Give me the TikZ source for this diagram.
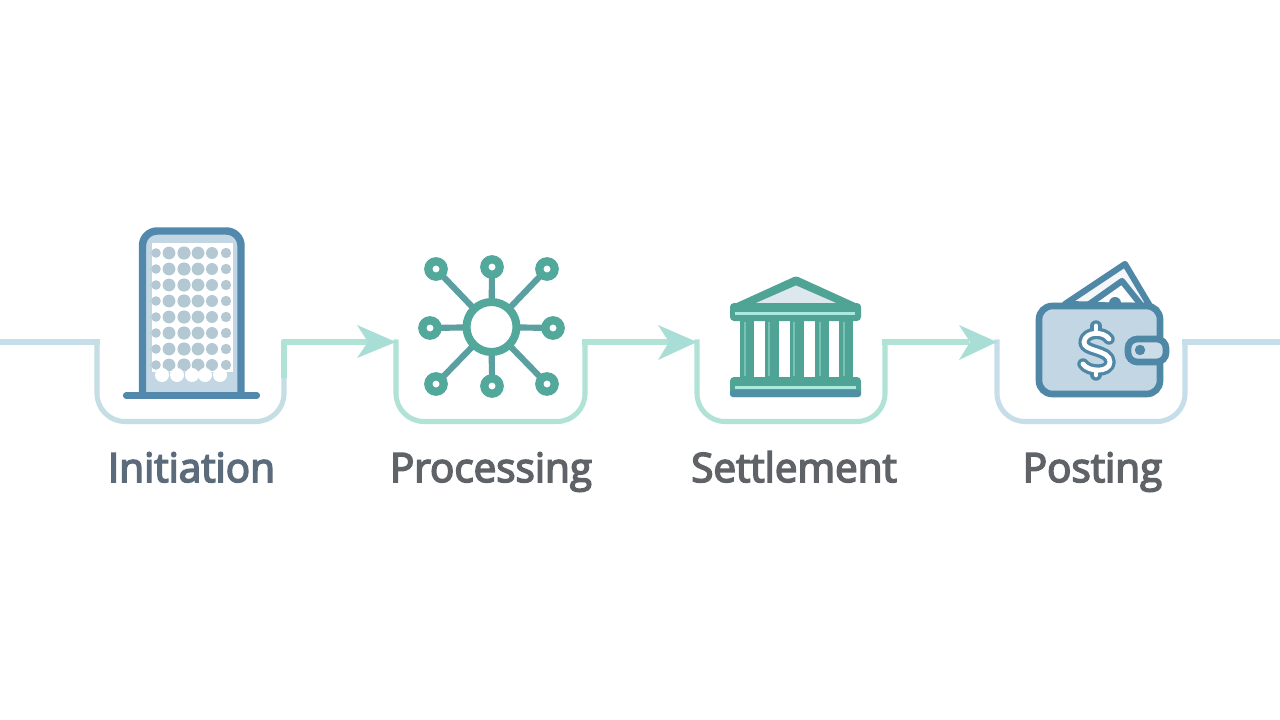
\documentclass[tikz,border=0pt]{standalone}
\usepackage{fontspec}
\setmainfont{Open Sans}
\newfontfamily\labelfont[FakeBold=4]{Open Sans}
\definecolor{cblue}{HTML}{C6DDEA}
\definecolor{cblueg}{HTML}{C4DEE3}
\definecolor{cmint}{HTML}{B0E3D6}
\definecolor{chead}{HTML}{A9DED6}
\definecolor{bdark}{HTML}{5288AB}
\definecolor{bfill}{HTML}{C3D6E4}
\definecolor{bdot}{HTML}{B4C8D4}
\definecolor{teal1}{HTML}{52A89A}
\definecolor{teal2}{HTML}{5B9FA0}
\definecolor{bank}{HTML}{4FA495}
\definecolor{bankl}{HTML}{ABE8DE}
\definecolor{bankb}{HTML}{4F90A3}
\definecolor{roof}{HTML}{DDE8EE}
\definecolor{wal}{HTML}{4F87A6}
\definecolor{txtblue}{HTML}{5B6B7B}
\definecolor{txtgrey}{HTML}{5F6368}
\tikzset{
  wire/.style={line width=3.8pt,line join=round,line cap=rect,rounded corners=21pt},
  headshape/.style={fill=chead,draw=none},
  label/.style={font=\labelfont\fontsize{30.3}{32}\selectfont,anchor=base,inner sep=0pt},
  hubring/.style={draw=teal1,line width=6pt,fill=white},
  sat/.style={circle,draw=teal1,line width=6.2pt,fill=white,minimum size=11.5pt,inner sep=0pt},
  spoke/.style={draw=teal2,line width=4.6pt},
  bankband/.style={fill=bank,draw=none,rounded corners=3pt},
}
\begin{document}
\begin{tikzpicture}[x=0.75pt,y=-0.75pt]
\useasboundingbox (0,0) rectangle (1280,720);
\fill[white] (0,0) rectangle (1280,720);

% connector anchors
\coordinate (w0) at (0,342);
\coordinate (a1) at (97,342);
\coordinate (b1) at (284,342);
\coordinate (a2) at (396,342);
\coordinate (b2) at (585,342);
\coordinate (a3) at (697,342);
\coordinate (b3) at (885,342);
\coordinate (a4) at (997,342);
\coordinate (b4) at (1185,342);
\coordinate (w5) at (1280,342);

% connectors
\draw[wire,cblue,rounded corners=0pt] (w0) -- (a1);
\draw[wire,cblueg] (a1) -- (97,421.5) -- (284,421.5) -- (b1);
\draw[wire,cmint,rounded corners=0pt] (284,375) -- (b1) -- (366,342);
\draw[wire,cmint] (a2) -- (396,421.5) -- (585,421.5) -- (b2);
\draw[wire,cmint,rounded corners=0pt] (b2) -- (666,342);
\draw[wire,cmint] (a3) -- (697,421.5) -- (885,421.5) -- (b3);
\draw[wire,cmint,rounded corners=0pt] (b3) -- (966,342);
\draw[wire,cblue] (a4) -- (997,421.5) -- (1185,421.5) -- (b4);
\draw[wire,cblue,rounded corners=0pt] (b4) -- (w5);

% arrowheads
\fill[headshape] (396,342) -- (357,325) -- (368,342) -- (357,358) -- cycle;
\fill[headshape] (697,342) -- (658,325) -- (669,342) -- (658,360) -- cycle;
\fill[headshape] (997,342) -- (959,325) -- (970,342) -- (959,360) -- cycle;

% building
\draw[bdark,fill=bfill,line width=5.6pt,rounded corners=11pt] (142.5,395) -- (142.5,231) -- (241,231) -- (241,395);
\fill[white] (152,243) rectangle (233,372);
\foreach \y in {253,269,285,301,317,333,349,365}
  \foreach \x/\r in {156/4.8,169/6.4,184/6.6,198/6.4,212/6,226/5.2}
    \fill[bdot] (\x,\y) circle[radius=\r];
\foreach \x in {162,177,192,205,220}
  \fill[white] (\x,375) circle[radius=7];
\draw[bdark,line width=4.6pt,line cap=round] (126,395.5) -- (257,395.5);

% network
\foreach \x/\y in {436/269,492/267,547/269,430/328,553/328,436/384,492/386,547/384}
  \draw[spoke] (491.5,327) -- (\x,\y);
\foreach \x/\y/\n in {436/269/s1,492/267/s2,547/269/s3,430/328/s4,553/328/s5,436/384/s6,492/386/s7,547/384/s8}
  \node[sat] (\n) at (\x,\y) {};
\draw[hubring] (491.5,327) circle[radius=25];

% bank
\fill[bank,rounded corners=2pt] (796,276) -- (862,306) -- (730,306) -- cycle;
\fill[roof] (796,285.5) -- (836,303) -- (756,303) -- cycle;
\fill[bankband] (730,303) rectangle (861,321);
\fill[bankl] (735,311.5) rectangle (855,315);
\foreach \x in {747,771.5,796.5,822,846}{
  \fill[bank] (\x-7,320) rectangle (\x+7,378);
  \fill[bankl!45!bank] (\x-3.5,322) rectangle (\x-1.5,376);
}
\fill[bankband] (730,377) rectangle (861,397);
\fill[bankb,rounded corners=2pt] (730,390) rectangle (861,397);
\fill[bankl] (735,385.5) rectangle (856,389);

% wallet
\draw[wal,fill=white!80!bfill,line width=4.6pt,line join=round] (1065,304) -- (1125,264) -- (1150,306) -- cycle;
\draw[wal,fill=white,line width=4.6pt,line join=round] (1088,305) -- (1122,281) -- (1142,306) -- cycle;
\fill[wal] (1115,303) circle[radius=6];
\draw[wal,fill=bfill,line width=5pt,rounded corners=10pt] (1039,306) rectangle (1160,394);
\draw[wal,fill=bfill!85!white,line width=5pt,rounded corners=7pt] (1128,339) rectangle (1166,362);
\fill[wal] (1140,350) circle[radius=5.2];
% dollar sign
\foreach \c/\w in {wal/8.6pt,white/3.6pt}{
  \draw[\c,line width=\w,line cap=round,line join=round]
    (1109,339) .. controls (1104,331) and (1085,331) .. (1084,342)
    .. controls (1083,352) and (1110,349) .. (1110,362)
    .. controls (1110,373) and (1088,372) .. (1083,364);
  \draw[\c,line width=\w,line cap=round] (1096,326) -- (1096,332);
  \draw[\c,line width=\w,line cap=round] (1096,370) -- (1096,375);
}

% labels
\node[label,text=txtblue] (l1) at (191.5,482) {Initiation};
\node[label,text=txtgrey] (l2) at (491,482) {Processing};
\node[label,text=txtgrey] (l3) at (794,482) {Settlement};
\node[label,text=txtgrey] (l4) at (1092.5,482) {Posting};
\end{tikzpicture}
\end{document}
